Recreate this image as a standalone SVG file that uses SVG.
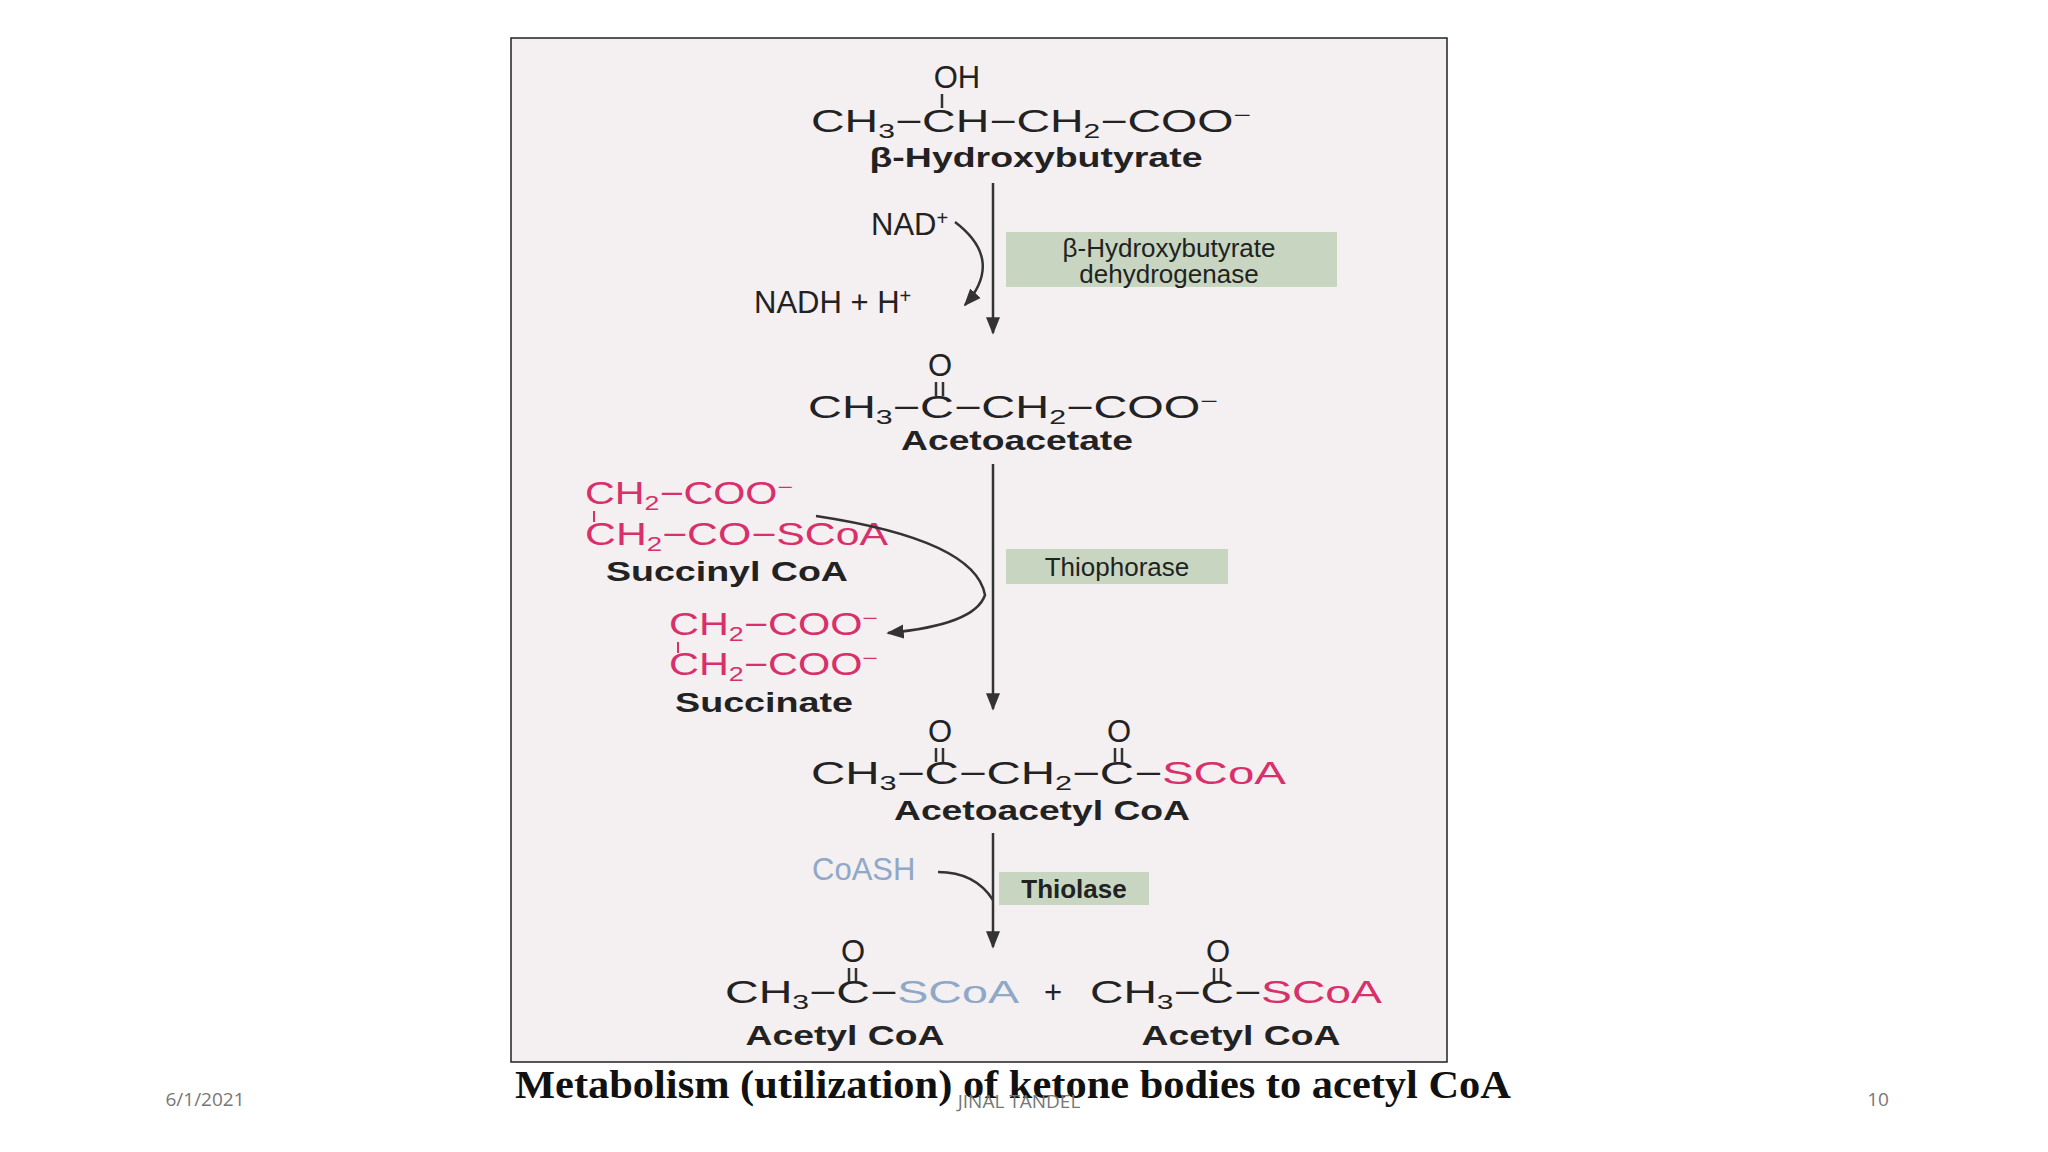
<svg xmlns="http://www.w3.org/2000/svg" width="2048" height="1152" viewBox="0 0 2048 1152">
<defs>
<style>
.f{font-family:"Liberation Sans",Arial,sans-serif;font-size:31px;fill:#222}
.n{font-family:"Liberation Sans",Arial,sans-serif;font-size:27px;font-weight:bold;fill:#222;text-anchor:middle}
.p{fill:#d8306a}
.b{fill:#8fa8c8}
.e{font-family:"Liberation Sans",Arial,sans-serif;font-size:26px;fill:#222;text-anchor:middle}
.s{font-size:20px}
.ln{stroke:#333;stroke-width:2.5;fill:none}
.enz{fill:#b9cdb0;opacity:0.75}
.ft{font-family:"Open Sans","Liberation Sans",sans-serif;font-size:19px;fill:#777}
</style>
<marker id="ah" viewBox="0 0 10 10" refX="9" refY="5" markerWidth="7" markerHeight="7" orient="auto"><path d="M0,1 L10,5 L0,9 Z" fill="#333"/></marker>
</defs>
<rect width="2048" height="1152" fill="#fff"/>
<rect x="511" y="38" width="936" height="1024" fill="#f4eff1" stroke="#222" stroke-width="1.5"/>

<g id="bhb">
<text class="f" x="957" y="88" text-anchor="middle">OH</text>
<line class="ln" x1="942" y1="94" x2="942" y2="108"/>
<text class="f" x="811" y="132" textLength="440" lengthAdjust="spacingAndGlyphs">CH<tspan class="s" dy="6">3</tspan><tspan dy="-6">−CH−CH</tspan><tspan class="s" dy="6">2</tspan><tspan dy="-6">−COO</tspan><tspan class="s" dy="-10">−</tspan></text>
<text class="n" x="1036" y="167" textLength="333" lengthAdjust="spacingAndGlyphs">β-Hydroxybutyrate</text>
</g>
<g id="enz1">
<rect class="enz" x="1006" y="232" width="331" height="55"/>
<text class="e" x="1169" y="257">β-Hydroxybutyrate</text>
<text class="e" x="1169" y="283">dehydrogenase</text>
</g>
<g id="nad">
<text class="f" x="871" y="235" font-size="27">NAD<tspan class="s" dy="-10">+</tspan></text>
<text class="f" x="754" y="313" font-size="27">NADH + H<tspan class="s" dy="-10">+</tspan></text>
</g>
<g id="aca">
<text class="f" x="940" y="376" text-anchor="middle">O</text>
<line class="ln" x1="936" y1="382" x2="936" y2="396"/><line class="ln" x1="943" y1="382" x2="943" y2="396"/>
<text class="f" x="808" y="418" textLength="410" lengthAdjust="spacingAndGlyphs">CH<tspan class="s" dy="6">3</tspan><tspan dy="-6">−C−CH</tspan><tspan class="s" dy="6">2</tspan><tspan dy="-6">−COO</tspan><tspan class="s" dy="-10">−</tspan></text>
<text class="n" x="1017" y="450" textLength="232" lengthAdjust="spacingAndGlyphs">Acetoacetate</text>
</g>
<g id="succoa">
<text class="f p" x="585" y="504" font-size="28" textLength="208" lengthAdjust="spacingAndGlyphs">CH<tspan class="s" dy="6">2</tspan><tspan dy="-6">−COO</tspan><tspan class="s" dy="-10">−</tspan></text>
<line x1="594" y1="511" x2="594" y2="522" stroke="#d8306a" stroke-width="2"/>
<text class="f p" x="585" y="545" font-size="28" textLength="303" lengthAdjust="spacingAndGlyphs">CH<tspan class="s" dy="6">2</tspan><tspan dy="-6">−CO−SCoA</tspan></text>
<text class="n" x="727" y="581" textLength="242" lengthAdjust="spacingAndGlyphs">Succinyl CoA</text>
</g>
<g id="enz2">
<rect class="enz" x="1006" y="549" width="222" height="35"/>
<text class="e" x="1117" y="576">Thiophorase</text>
</g>
<g id="succinate">
<text class="f p" x="669" y="635" font-size="28" textLength="209" lengthAdjust="spacingAndGlyphs">CH<tspan class="s" dy="6">2</tspan><tspan dy="-6">−COO</tspan><tspan class="s" dy="-10">−</tspan></text>
<line x1="678" y1="642" x2="678" y2="653" stroke="#d8306a" stroke-width="2"/>
<text class="f p" x="669" y="675" font-size="28" textLength="209" lengthAdjust="spacingAndGlyphs">CH<tspan class="s" dy="6">2</tspan><tspan dy="-6">−COO</tspan><tspan class="s" dy="-10">−</tspan></text>
<text class="n" x="764" y="712" textLength="178" lengthAdjust="spacingAndGlyphs">Succinate</text>
</g>
<g id="acacoa">
<text class="f" x="940" y="742" text-anchor="middle">O</text>
<line class="ln" x1="936" y1="748" x2="936" y2="762"/><line class="ln" x1="943" y1="748" x2="943" y2="762"/>
<text class="f" x="1119" y="742" text-anchor="middle">O</text>
<line class="ln" x1="1115" y1="748" x2="1115" y2="762"/><line class="ln" x1="1122" y1="748" x2="1122" y2="762"/>
<text class="f" x="811" y="784" textLength="475" lengthAdjust="spacingAndGlyphs">CH<tspan class="s" dy="6">3</tspan><tspan dy="-6">−C−CH</tspan><tspan class="s" dy="6">2</tspan><tspan dy="-6">−C−</tspan><tspan class="p">SCoA</tspan></text>
<text class="n" x="1042" y="820" textLength="296" lengthAdjust="spacingAndGlyphs">Acetoacetyl CoA</text>
</g>
<g id="coash"><text class="f b" x="812" y="880" font-size="27">CoASH</text></g>
<g id="enz3">
<rect class="enz" x="999" y="872" width="150" height="33"/>
<text class="e" x="1074" y="898" font-weight="bold" font-size="25">Thiolase</text>
</g>
<g id="acetyl1">
<text class="f" x="853" y="962" text-anchor="middle">O</text>
<line class="ln" x1="849" y1="968" x2="849" y2="982"/><line class="ln" x1="856" y1="968" x2="856" y2="982"/>
<text class="f" x="725" y="1003" textLength="294" lengthAdjust="spacingAndGlyphs">CH<tspan class="s" dy="6">3</tspan><tspan dy="-6">−C−</tspan><tspan class="b">SCoA</tspan></text>
<text class="n" x="845" y="1045" textLength="199" lengthAdjust="spacingAndGlyphs">Acetyl CoA</text>
</g>
<text class="f" x="1053" y="1003" text-anchor="middle">+</text>
<g id="acetyl2">
<text class="f" x="1218" y="962" text-anchor="middle">O</text>
<line class="ln" x1="1214" y1="968" x2="1214" y2="982"/><line class="ln" x1="1221" y1="968" x2="1221" y2="982"/>
<text class="f" x="1090" y="1003" textLength="292" lengthAdjust="spacingAndGlyphs">CH<tspan class="s" dy="6">3</tspan><tspan dy="-6">−C−</tspan><tspan class="p">SCoA</tspan></text>
<text class="n" x="1241" y="1045" textLength="199" lengthAdjust="spacingAndGlyphs">Acetyl CoA</text>
</g>

<g id="connectors">
<line class="ln" x1="993" y1="183" x2="993" y2="333" marker-end="url(#ah)"/>
<path class="ln" d="M955,222 Q1005,260 965,305" marker-end="url(#ah)"/>
<line class="ln" x1="993" y1="464" x2="993" y2="709" marker-end="url(#ah)"/>
<path class="ln" d="M816,516 Q975,540 985,595 Q975,625 888,633" marker-end="url(#ah)"/>
<line class="ln" x1="993" y1="833" x2="993" y2="947" marker-end="url(#ah)"/>
<path class="ln" d="M938,872 Q975,872 993,900"/>
</g>

<text x="1013" y="1098" text-anchor="middle" font-family="Liberation Serif,serif" font-weight="bold" font-size="40" textLength="996" lengthAdjust="spacingAndGlyphs" fill="#111">Metabolism (utilization) of ketone bodies to acetyl CoA</text>
<text class="ft" x="205" y="1106" text-anchor="middle">6/1/2021</text>
<text class="ft" x="1019" y="1108" text-anchor="middle">JINAL TANDEL</text>
<text class="ft" x="1878" y="1106" text-anchor="middle">10</text>
</svg>
